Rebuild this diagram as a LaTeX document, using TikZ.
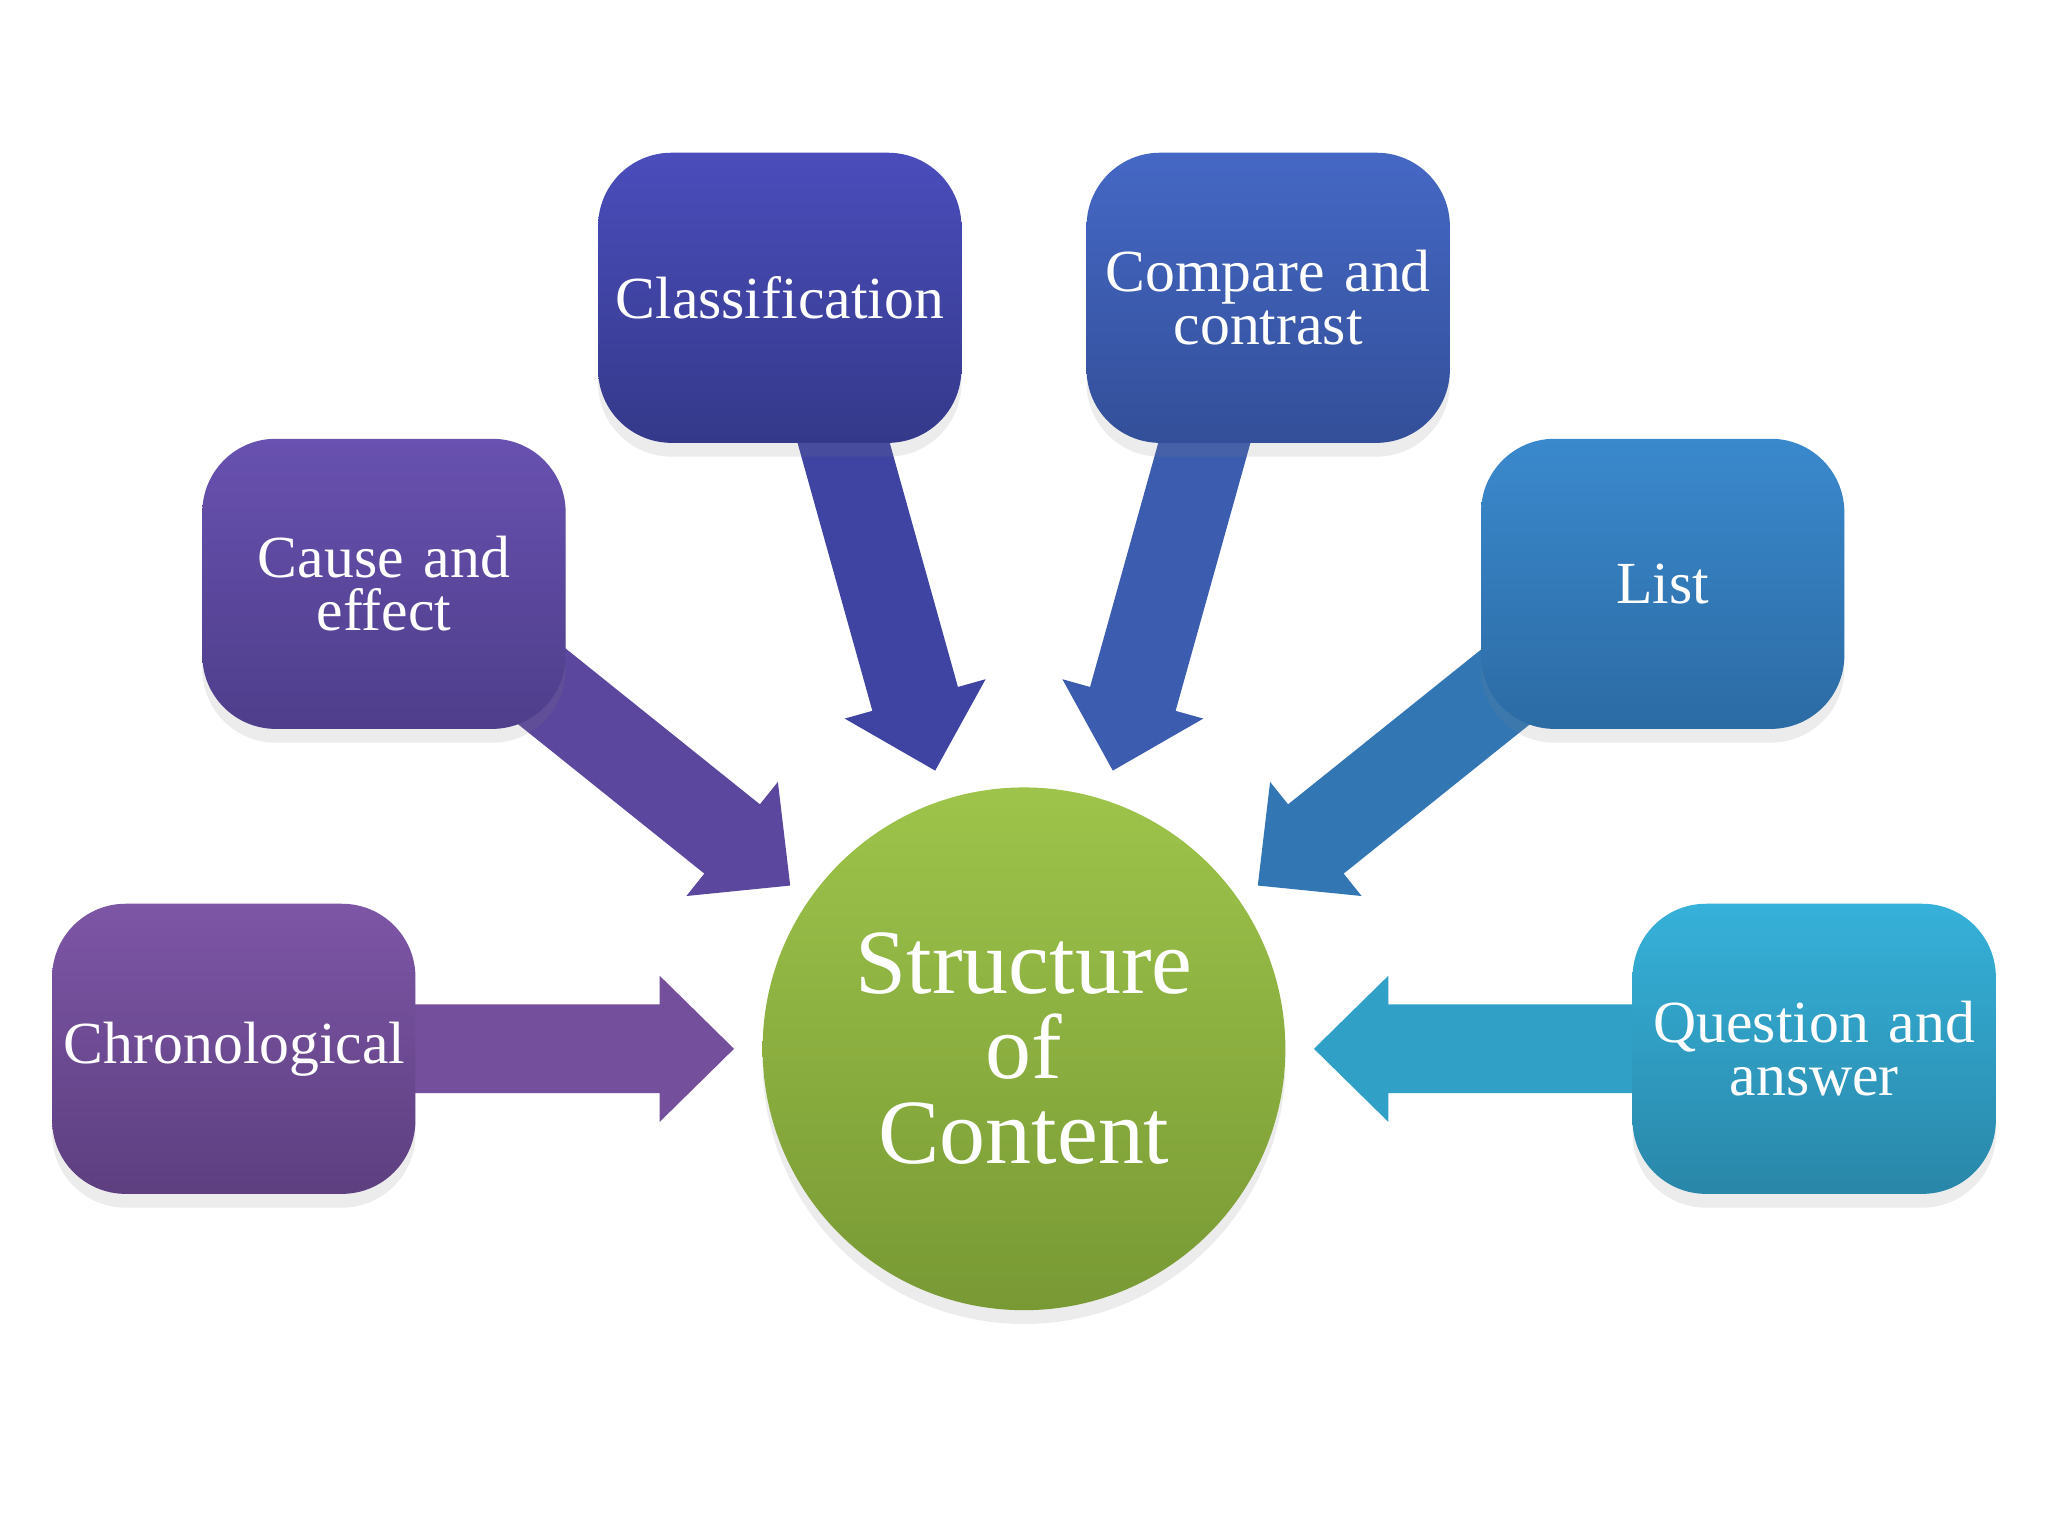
\documentclass[tikz,border=0pt]{standalone}
\usepackage{fontspec}
\setmainfont{Liberation Serif}
\usetikzlibrary{shadows}
\definecolor{c1t}{HTML}{7D56A6}\definecolor{c1b}{HTML}{5D3F80}
\definecolor{c2t}{HTML}{6851B0}\definecolor{c2b}{HTML}{4E3E8A}
\definecolor{c3t}{HTML}{4A4DBB}\definecolor{c3b}{HTML}{35398A}
\definecolor{c4t}{HTML}{4568C5}\definecolor{c4b}{HTML}{334F99}
\definecolor{c5t}{HTML}{3A89CD}\definecolor{c5b}{HTML}{2C6BA4}
\definecolor{c6t}{HTML}{36B1D9}\definecolor{c6b}{HTML}{2987A9}
\definecolor{gt}{HTML}{9EC44B}\definecolor{gb}{HTML}{789934}
\begin{document}
\newcommand\barrow[5]{%
 \pgfmathsetmacro\ang{atan2(#2-#4,#3-#1)}%
 \pgfmathsetmacro\len{veclen(#3-#1,#4-#2)}%
 \fill[#5,shift={(#3,#4)},rotate=\ang] (0,0) -- (-57,56) -- (-57,34) -- (-\len,34) -- (-\len,-34) -- (-57,-34) -- (-57,-56) -- cycle;}
\begin{tikzpicture}[x=0.01cm,y=-0.01cm,
 box/.style={rounded corners=16pt,minimum width=2.78cm,minimum height=2.22cm,text width=2.6cm,align=center,text=white,font=\fontsize{13}{11.5}\selectfont,inner sep=0pt,drop shadow={opacity=0.15,shadow xshift=0pt,shadow yshift=-3pt}}]
\fill[white] (0,0) rectangle (1568,1176);
\useasboundingbox (0,0) rectangle (1568,1176);
% arrows
\barrow{280}{803}{562}{803}{c1t!70!c1b}
\barrow{408}{520}{605}{678}{c2t!50!c2b}
\barrow{635}{300}{716}{590}{c3t!50!c3b}
\barrow{933}{300}{852}{590}{c4t!50!c4b}
\barrow{1160}{520}{963}{678}{c5t!40!c5b}
\barrow{1290}{803}{1006}{803}{c6t!60!c6b}
% boxes
\node[box,top color=c1t,bottom color=c1b] (chr) at (179,803) {Chronological};
\node[box,top color=c2t,bottom color=c2b] (cau) at (294,447) {Cause and\\effect};
\node[box,top color=c3t,bottom color=c3b] (cla) at (597,228) {Classification};
\node[box,top color=c4t,bottom color=c4b] (com) at (971,228) {Compare and\\contrast};
\node[box,top color=c5t,bottom color=c5b] (lis) at (1273,447) {List};
\node[box,top color=c6t,bottom color=c6b] (qa) at (1389,803) {Question and\\answer};
\node[circle,minimum size=4cm,inner sep=0pt,top color=gt,bottom color=gb,text=white,align=center,font=\fontsize{20}{18.5}\selectfont,drop shadow={opacity=0.15,shadow xshift=0pt,shadow yshift=-3pt}] (soc) at (784,803) {Structure\\of\\Content};
\end{tikzpicture}
\end{document}
